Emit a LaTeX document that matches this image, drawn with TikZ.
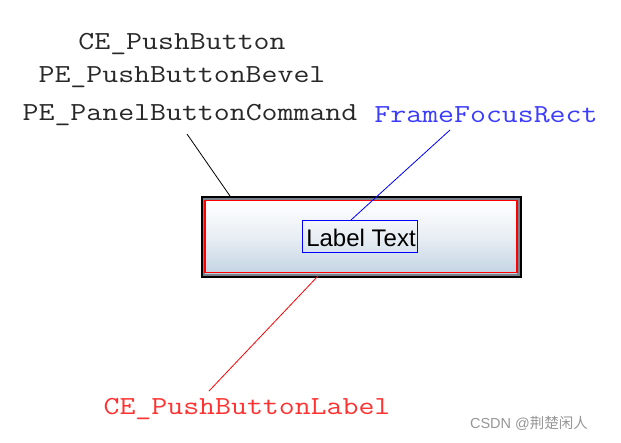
\documentclass[tikz,border=0pt]{standalone}
\usepackage{fontspec}
\setmainfont{Liberation Sans}
\newfontfamily\cjkfnt{Noto Sans CJK SC}
\definecolor{lblblue}{RGB}{60,60,255}
\definecolor{lblred}{RGB}{255,50,50}
\definecolor{lbldark}{RGB}{40,40,40}
\definecolor{btnbottom}{RGB}{196,212,228}
\definecolor{bevelgray}{RGB}{120,130,140}
\definecolor{wmgray}{RGB}{150,150,150}
\tikzset{
  monolbl/.style={inner sep=0pt, xscale=1.19, text=lbldark, font=\ttfamily\fontsize{26}{30}\selectfont},
  pointer/.style={line width=0.8pt},
}
\begin{document}
\begin{tikzpicture}[x=1pt,y=-1pt]
\useasboundingbox[fill=white] (0,0) rectangle (621,442);
% button
\node[draw=black, line width=2pt, fill=bevelgray, minimum width=319pt, minimum height=80pt, inner sep=0pt] (outer) at (361,236.5) {};
\shade[top color=white, bottom color=btnbottom, middle color={rgb,255:red,232;green,238;blue,244}, shading=axis] (205,201) rectangle (517,273);
\node[draw=red, line width=1.6pt, minimum width=312pt, minimum height=72pt, inner sep=0pt] (focusframe) at (361,236.5) {};
\node[draw=blue, line width=1.2pt, minimum width=115pt, minimum height=32pt, inner sep=0pt] (focusrect) at (360,236.5) {};
\node[inner sep=0pt, font=\fontsize{24}{28}\selectfont] (label) at (361,238) {Label Text};
% labels
\node[monolbl] (ce) at (182,44) {CE\_PushButton};
\node[monolbl] (bevel) at (182,77) {PE\_PushButtonBevel};
\node[monolbl] (panel) at (190,114.5) {PE\_PanelButtonCommand};
\node[monolbl, text=lblblue] (ffr) at (486,114.5) {FrameFocusRect};
\node[monolbl, text=lblred] (cel) at (247,408.5) {CE\_PushButtonLabel};
\node[inner sep=0pt, text=wmgray, font=\fontsize{14.5}{17}\selectfont] (wm) at (529,423) {CSDN @{\cjkfnt 荆楚闲人}};
% pointers
\coordinate (pb) at (187,134);
\coordinate (pbend) at (230,196);
\coordinate (fb) at (450,130);
\coordinate (fbend) at (351,220);
\coordinate (lb) at (209,391);
\coordinate (lbend) at (318,276);
\draw[pointer, black] (pb) -- (pbend);
\draw[pointer, blue] (fb) -- (fbend);
\draw[pointer, red] (lb) -- (lbend);
\end{tikzpicture}
\end{document}
